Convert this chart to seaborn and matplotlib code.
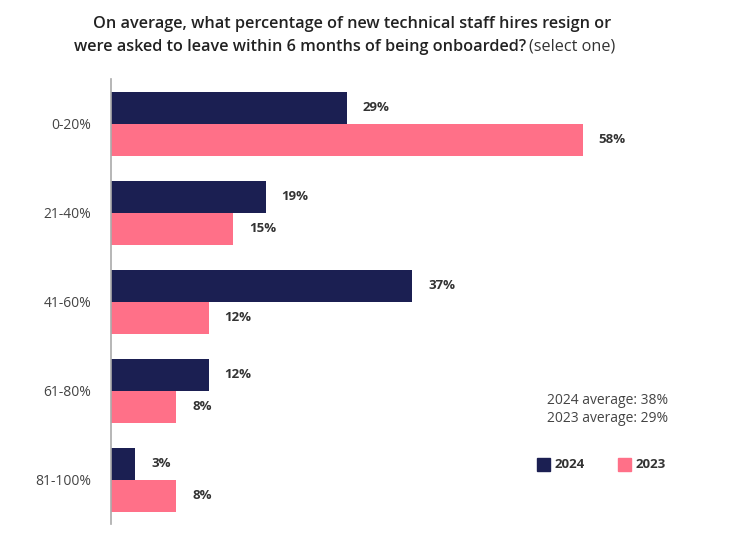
import pandas as pd
import numpy as np
import matplotlib.pyplot as plt
import seaborn as sns

# data
categories = ["0-20%", "21-40%", "41-60%", "61-80%", "81-100%"]
vals_2024 = [29, 19, 37, 12, 3]
vals_2023 = [58, 15, 12, 8, 8]
years = ["2024", "2023"]
colors = {"2024": "#1b1f52", "2023": "#ff7088"}

df = pd.DataFrame({
    "kategori": categories * 2,
    "yuzde": vals_2024 + vals_2023,
    "yil": ["2024"] * len(categories) + ["2023"] * len(categories),
})

sns.set_style("white")
plt.rcParams["font.family"] = ["Open Sans", "DejaVu Sans"]

fig = plt.figure(figsize=(7.4, 5.49), dpi=100)
ax = fig.add_axes([0.15, 0.045, 0.797, 0.811])

sns.barplot(data=df, x="yuzde", y="kategori", hue="yil", hue_order=years,
            palette=colors, orient="h", width=0.72, ax=ax, legend=False,
            saturation=1, linewidth=0)

ax.set_xlim(0, 72.5)
ax.set_ylim(4.5, -0.5)
ax.set_xlabel("")
ax.set_ylabel("")
ax.set_xticks([])

# bar labels
for cont, yil in zip(ax.containers, years):
    for bar in cont:
        w = bar.get_width()
        ax.annotate(f"{w:.0f}%", (w, bar.get_y() + bar.get_height() / 2),
                    xytext=(11.5, 0), textcoords="offset points",
                    ha="left", va="center", fontsize=9.5, fontweight="bold",
                    color="#333333")

# eksen
for s in ["top", "right", "bottom"]:
    ax.spines[s].set_visible(False)
ax.spines["left"].set_color("#aaaaaa")
ax.spines["left"].set_linewidth(1.2)
ax.set_yticks(range(len(categories)))
ax.set_yticklabels(categories, fontsize=10, color="#444444")
ax.tick_params(axis="y", which="major", length=0, pad=14)
ax.set_yticks(np.arange(-0.5, len(categories), 1), minor=True)
ax.tick_params(axis="y", which="minor", length=4, color="#aaaaaa", width=1.2)

# baslik
fig.text(352 / 740, 1 - 24 / 549, "On average, what percentage of new technical staff hires resign or",
         ha="center", va="center", fontsize=11.7, fontweight="semibold", color="#222222")
fig.text(526 / 740, 1 - 47 / 549, "were asked to leave within 6 months of being onboarded?",
         ha="right", va="center", fontsize=11.7, fontweight="semibold", color="#222222")
fig.text(529 / 740, 1 - 47 / 549, "(select one)",
         ha="left", va="center", fontsize=11.7, color="#333333")

# ortalamalar
fig.text(668 / 740, 1 - 400 / 549, "2024 average: 38%", ha="right", va="center",
         fontsize=10, color="#444444")
fig.text(668 / 740, 1 - 419 / 549, "2023 average: 29%", ha="right", va="center",
         fontsize=10, color="#444444")

# legend
for x0, yil in [(537, "2024"), (618, "2023")]:
    fig.patches.append(plt.Rectangle((x0 / 740, 1 - 471 / 549), 13 / 740, 13 / 549,
                                     transform=fig.transFigure, color=colors[yil]))
    fig.text((x0 + 18) / 740, 1 - 465 / 549, yil, ha="left", va="center",
             fontsize=9.5, fontweight="bold", color="#333333")

fig.savefig("out.png", dpi=100)
